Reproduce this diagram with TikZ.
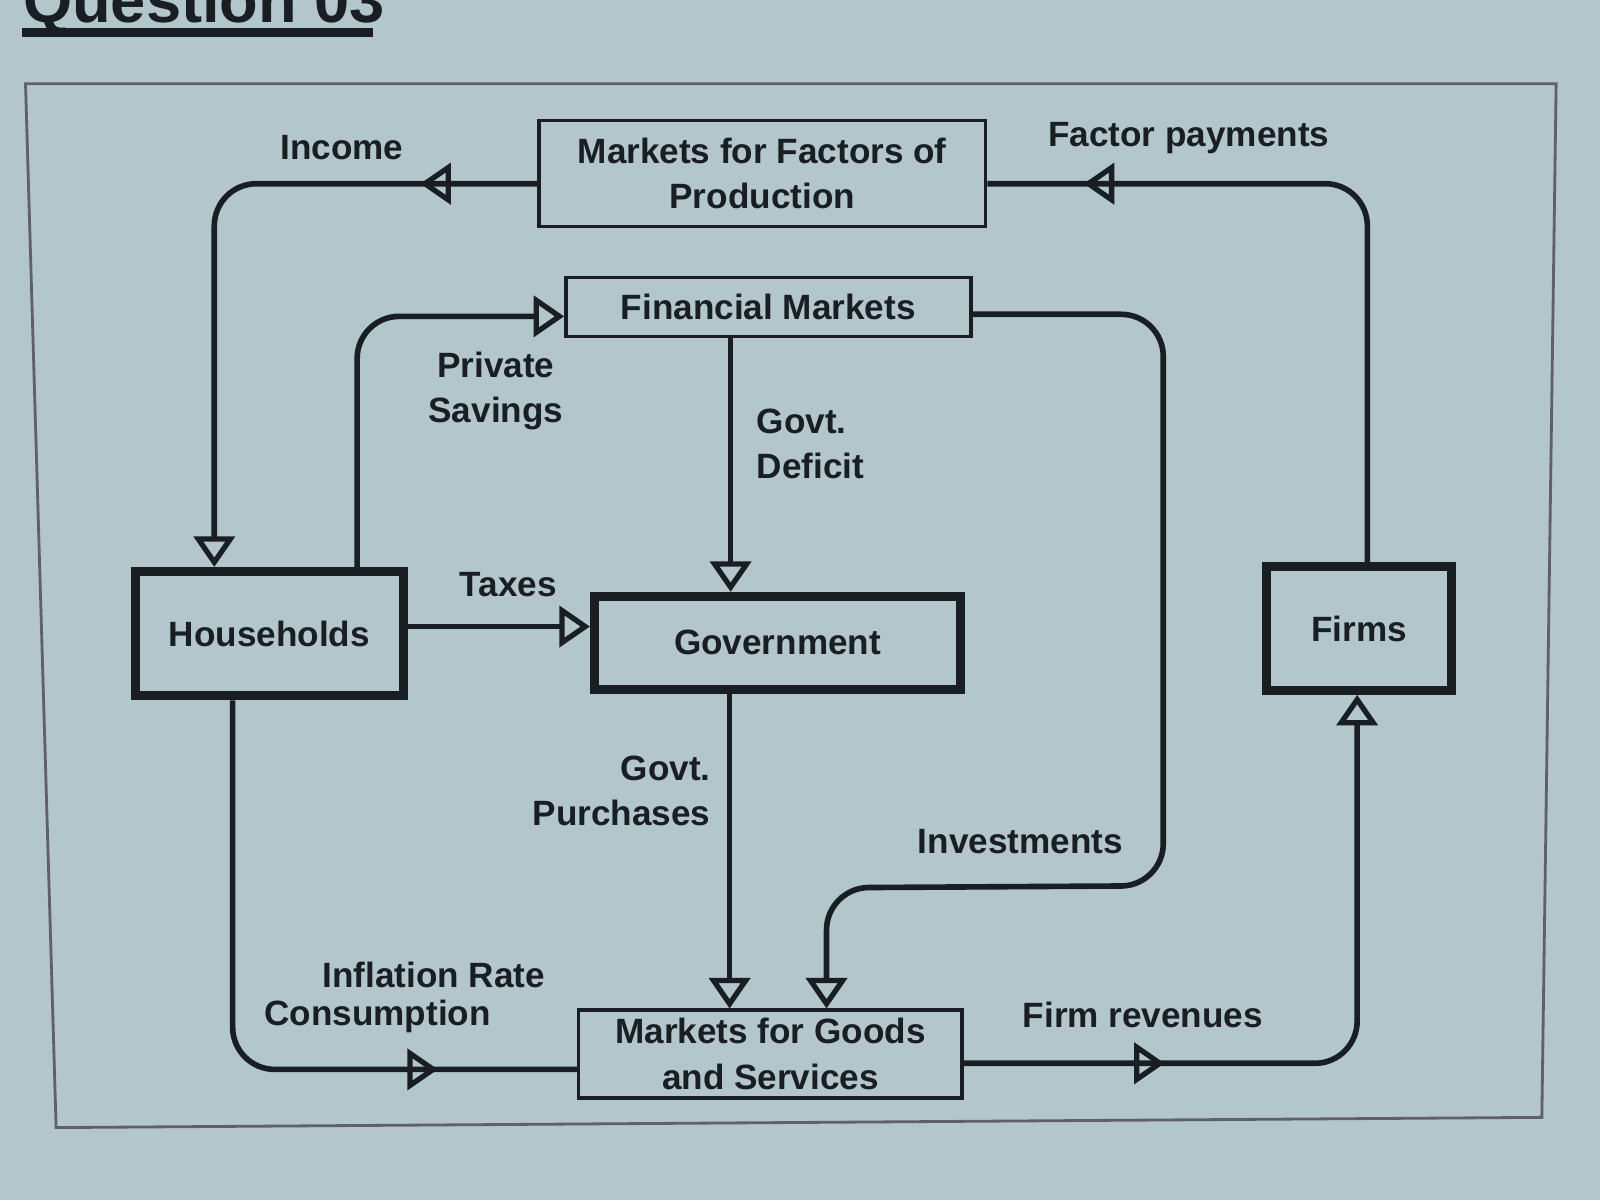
\documentclass[tikz,border=0pt]{standalone}
\usepackage{fontspec}
\setmainfont{Liberation Sans}
\usetikzlibrary{arrows.meta,decorations.markings}
\definecolor{bg}{RGB}{178,198,204}
\definecolor{ink}{RGB}{25,30,35}
\def\px{0.2903pt}
\begin{document}
\begin{tikzpicture}[x=0.010204cm,y=-0.010204cm,
  tip/.style={-{Triangle[open,length=30*\px,width=40*\px,line width=1.5pt]}},
  mid/.style={postaction={decorate},decoration={markings,mark=at position #1 with {\arrow{Triangle[open,length=30*\px,width=40*\px,line width=1.5pt]}}}},
  flow/.style={draw=ink,line width=1.6pt,rounded corners=12pt},
  box/.style={draw=ink,line width=1pt,align=center,inner sep=0pt,font=\bfseries\fontsize{10}{13}\selectfont,text=ink},
  tbox/.style={box,line width=2.6pt},
  lab/.style={font=\bfseries\fontsize{10}{13}\selectfont,text=ink,inner sep=0pt}]
\fill[bg] (0,0) rectangle (1568,1176);
\useasboundingbox (0,0) rectangle (1568,1176);
\node[lab,font=\bfseries\fontsize{18}{22}\selectfont,anchor=base west] (title) at (22,22) {Question 03};
\draw[ink,line width=2.5pt] (22,32) -- (366,32);
\draw[ink!70,line width=0.8pt] (25,82) -- (1525,82) -- (1511,1095) -- (55,1105) -- cycle;
\node[box,minimum width=438*\px,minimum height=104*\px] (fac) at (747,170) {Markets for Factors of\\Production};
\node[box,minimum width=397*\px,minimum height=58*\px] (fin) at (753,301) {Financial Markets};
\node[tbox,minimum width=263*\px,minimum height=122*\px] (hh) at (264,621) {Households};
\node[tbox,minimum width=359*\px,minimum height=91*\px] (gov) at (762,630) {Government};
\node[tbox,minimum width=181*\px,minimum height=121*\px] (firm) at (1332,616) {Firms};
\node[box,minimum width=376*\px,minimum height=86*\px] (goods) at (755,1033) {Markets for Goods\\and Services};
\coordinate (c1) at (210,180); \coordinate (c2) at (1340,180);
\coordinate (c3) at (350,310); \coordinate (c4) at (1140,308);
\coordinate (c5) at (1140,868); \coordinate (c6) at (810,870);
\coordinate (c7) at (228,1048); \coordinate (c8) at (1330,1042);
\draw[flow,tip,mid=0.17] (fac.west |- c1) -- (c1) -- (hh.north -| c1);
\draw[flow,mid=0.87] (firm.north -| c2) -- (c2) -- (fac.east |- c2);
\draw[flow,tip] (hh.north -| c3) -- (c3) -- (fin.west |- c3);
\draw[flow,tip] (fin.south -| 716,0) -- (gov.north -| 716,0);
\draw[flow,tip] (fin.east |- c4) -- (c4) -- (c5) -- (c6) -- (goods.north -| c6);
\draw[flow,tip] (hh.east |- 0,614) -- (gov.west |- 0,614);
\draw[flow,tip] (gov.south -| 715,0) -- (goods.north -| 715,0);
\draw[flow,mid=0.8] (hh.south -| c7) -- (c7) -- (goods.west |- c7);
\draw[flow,tip,mid=0.27] (goods.east |- c8) -- (c8) -- (firm.south -| c8);
\node[lab] (l1) at (335,145) {Income};
\node[lab] (l2) at (1165,135) {Factor payments};
\node[lab,align=center] (l3) at (486,383) {Private\\Savings};
\node[lab,align=left,anchor=west] (l4) at (741,435) {Govt.\\Deficit};
\node[lab] (l5) at (498,573) {Taxes};
\node[lab,align=right,anchor=east] (l6) at (697,775) {Govt.\\Purchases};
\node[lab] (l7) at (1000,825) {Investments};
\node[lab] (l8) at (425,955) {Inflation Rate};
\node[lab] (l9) at (370,996) {Consumption};
\node[lab] (l10) at (1120,995) {Firm revenues};
\end{tikzpicture}
\end{document}
